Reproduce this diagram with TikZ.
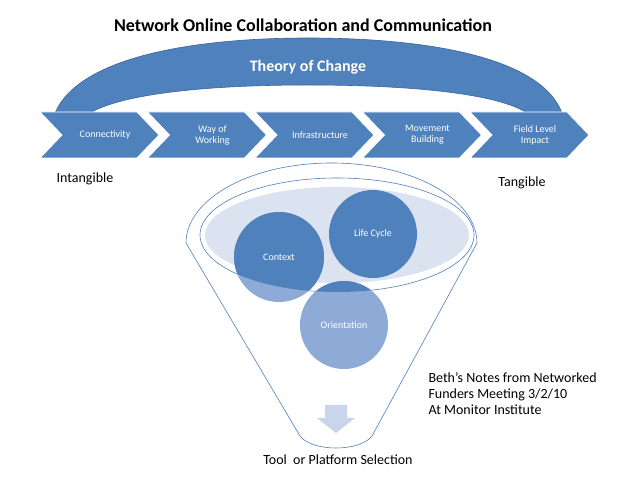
\documentclass[tikz,border=0pt]{standalone}
\usepackage{fontspec}
\setmainfont{Carlito}
\definecolor{blu}{HTML}{4F81BD}
\definecolor{dblu}{HTML}{3A6699}
\definecolor{lblu}{HTML}{8EAAD6}
\definecolor{pale}{HTML}{DCE3F0}
\definecolor{arr}{HTML}{C9D5EA}
\begin{document}
\begin{tikzpicture}[x=1pt,y=-1pt,
  chev/.style={fill=blu,draw=white,line width=0.8pt},
  lab/.style={text=white,font=\fontsize{10}{11}\selectfont,align=center},
  txt/.style={font=\fontsize{14}{16}\selectfont}]
\useasboundingbox (0,0) rectangle (638,478);
\fill[white] (0,0) rectangle (638,478);
\node[font=\bfseries\fontsize{18}{20}\selectfont] (title) at (303,25) {Network Online Collaboration and Communication};
% banner arc
\path[fill=blu,draw=dblu,line width=0.6pt] (55,113) .. controls (80,55) and (200,38) .. (308,38) .. controls (420,38) and (540,55) .. (562,113)
  -- (527,113) .. controls (500,95) and (420,85) .. (308,85) .. controls (200,85) and (120,95) .. (90,113) -- cycle;
\node[text=white,font=\bfseries\fontsize{16}{18}\selectfont] (toc) at (308,67) {Theory of Change};
% chevrons
\foreach \i/\t in {0/Connectivity,1/{Way of\\Working},2/Infrastructure,3/{Movement\\Building},4/{Field Level\\Impact}}{
  \pgfmathsetmacro{\xa}{40+107.5*\i}
  \path[chev] (\xa,112) -- ++(97,0) -- ++(22,23) -- ++(-22,23) -- ++(-97,0) -- ++(22,-23) -- cycle;
  \node[lab] (c\i) at (\xa+65,135) {\t};
}
\node[txt] (intan) at (85,179) {Intangible};
\node[txt] (tan) at (522,183) {Tangible};
% funnel
\draw[blu,line width=0.6pt] (186,243) arc[start angle=180,end angle=360,x radius=145.5,y radius=80] -- (372,436) .. controls (360,452) and (312,452) .. (300,436) -- cycle;
\fill[pale] (337,235) ellipse[x radius=132,y radius=48];
\draw[blu,line width=0.6pt] (337,235) ellipse[x radius=137,y radius=57];
\fill[arr] (325,405) rectangle (347,418) -- (355,418) -- (336,433) -- (317,418) -- (325,418);
\fill[lblu] (279,257) circle[radius=45];
\fill[lblu] (344,325) circle[radius=44];
\begin{scope}
\clip (337,235) ellipse[x radius=137,y radius=57];
\fill[blu] (279,257) circle[radius=45];
\fill[blu] (344,325) circle[radius=44];
\end{scope}
\fill[blu] (373,234) circle[radius=44];
\node[lab] (ctx) at (279,257) {Context};
\node[lab] (lc) at (373,234) {Life Cycle};
\node[lab] (ori) at (344,325) {Orientation};
\node[txt,anchor=west,align=left] (notes) at (425,394) {Beth’s Notes from Networked\\Funders Meeting 3/2/10\\At Monitor Institute};
\node[txt] (tool) at (338,460) {Tool\ \ or Platform Selection};
\end{tikzpicture}
\end{document}
